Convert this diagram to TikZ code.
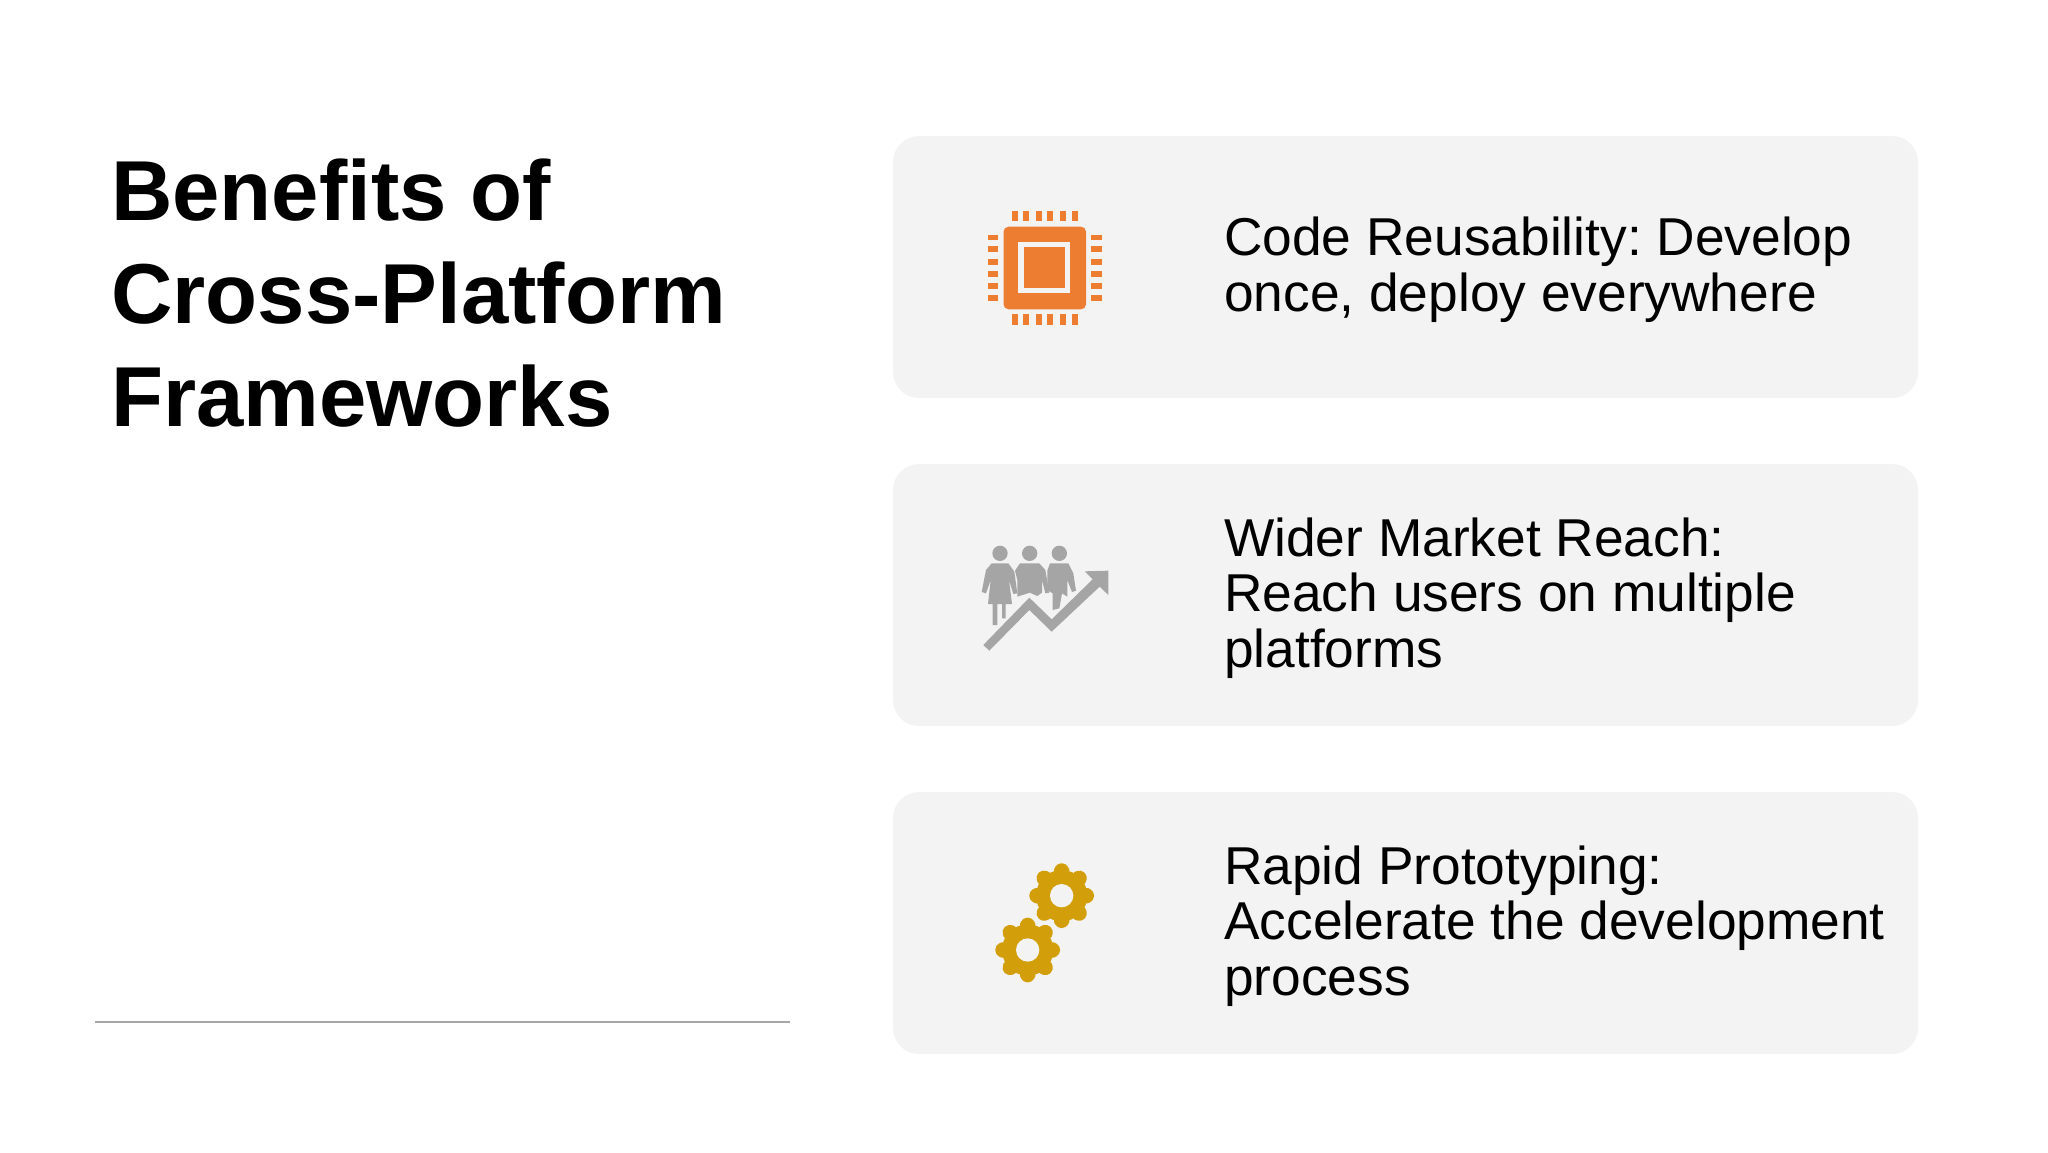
\documentclass[tikz,border=0pt]{standalone}
\usepackage{fontspec}
\setmainfont{Liberation Sans}
\frenchspacing
\definecolor{cardbg}{HTML}{F3F3F3}
\definecolor{chipc}{HTML}{ED7D31}
\definecolor{peoplec}{HTML}{A5A5A5}
\definecolor{gearc}{HTML}{D29F0A}
\definecolor{rulec}{HTML}{A6A6A6}
\tikzset{
  card/.style={fill=cardbg,draw=none,rounded corners=26pt},
  cardtext/.style={anchor=west,align=left,inner sep=0pt,font=\fontsize{53.3}{55.6}\selectfont,text=black},
  titletext/.style={anchor=west,align=left,inner sep=0pt,font=\fontsize{85.1}{103}\selectfont\bfseries,text=black},
  chip/.style={fill=chipc,draw=none},
  people/.style={fill=peoplec,draw=none},
  gear/.style={fill=gearc,draw=none},
}
\begin{document}
\begin{tikzpicture}[x=1pt,y=-1pt]
\path[use as bounding box,fill=white] (0,0) rectangle (2048,1152);
\node[titletext] (title) at (111,293) {Benefits of\\Cross-Platform\\Frameworks};
\coordinate (ruleA) at (95,1022);
\coordinate (ruleB) at (790,1022);
\draw[rulec,line width=2pt] (ruleA) -- (ruleB);
% cards
\fill[card] (893,136) rectangle (1918,398);
\fill[card] (893,464) rectangle (1918,726);
\fill[card] (893,792) rectangle (1918,1054);
\node[cardtext] (t1) at (1224,270) {Code Reusability: Develop\\once, deploy everywhere};
\node[cardtext] (t2) at (1224,598) {Wider Market Reach:\\Reach users on multiple\\platforms};
\node[cardtext] (t3) at (1224,926) {Rapid Prototyping:\\Accelerate the development\\process};
% chip
\fill[chip,rounded corners=5pt] (1003.5,226.7) rectangle (1086,309.3);
\fill[cardbg] (1018.3,241.7) rectangle (1070,293.3);
\fill[chip] (1024.3,247.3) rectangle (1065.3,288.3);
\foreach \a/\b in {1012/1017.7,1023.3/1029.3,1036/1041.7,1047.3/1053.3,1060/1066,1071.7/1077.7}{
  \fill[chip] (\a,210.7) rectangle (\b,220.7);
  \fill[chip] (\a,314.3) rectangle (\b,325);
}
\foreach \a/\b in {235.3/240.3,246.3/252.3,259.3/264.7,270.7/276.7,283.3/288.7,295/300.7}{
  \fill[chip] (988,\a) rectangle (997.7,\b);
  \fill[chip] (1090.7,\a) rectangle (1102,\b);
}
% people and arrow
\begin{scope}[shift={(960,530)},x=0.3333pt,y=-0.3333pt]
  \fill[people] (120,70) circle (23);
  \fill[people] (209,70) circle (23);
  \fill[people] (298,70) circle (23);
  % woman
  \fill[people] (95,100) -- (145,100) -- (163,125) -- (172,190) -- (160,192) -- (147,150)
     -- (156,222) -- (137,222) -- (137,265) -- (126,265) -- (126,222) -- (112,222)
     -- (112,285) -- (98,285) -- (98,222) -- (84,222) -- (92,150) -- (78,190) -- (65,186) -- (78,120) -- cycle;
  % middle man
  \fill[people] (180,100) -- (238,100) -- (256,120) -- (268,188) -- (256,190) -- (246,150)
     -- (246,188) -- (232,198) -- (209,188) -- (172,200) -- (172,150) -- (165,122) -- cycle;
  % right man
  \fill[people] (270,100) -- (325,100) -- (340,130) -- (348,182) -- (336,186) -- (322,150)
     -- (322,200) -- (306,190) -- (298,235) -- (278,240) -- (278,190) -- (262,180) -- (262,122) -- cycle;
  % arrow
  \fill[people] (70,345) -- (208,203) -- (275,268) -- (398,148) -- (374,124) -- (445,122)
     -- (445,195) -- (419,170) -- (275,305) -- (208,240) -- (88,362) -- cycle;
\end{scope}
% gears
\begin{scope}[shift={(980,850)},x=0.3333pt,y=-0.3333pt]
  \foreach \cx/\cy in {245/137,143/300}{
    \fill[gear] (\cx,\cy) circle (77);
    \foreach \r in {0,45,...,315}{
      \fill[gear,rounded corners=4pt,shift={(\cx,\cy)},rotate=\r] (-28,-68) -- (-14,-97) -- (14,-97) -- (28,-68) -- cycle;
    }
    \fill[cardbg] (\cx,\cy) circle (35);
  }
\end{scope}
\end{tikzpicture}
\end{document}
